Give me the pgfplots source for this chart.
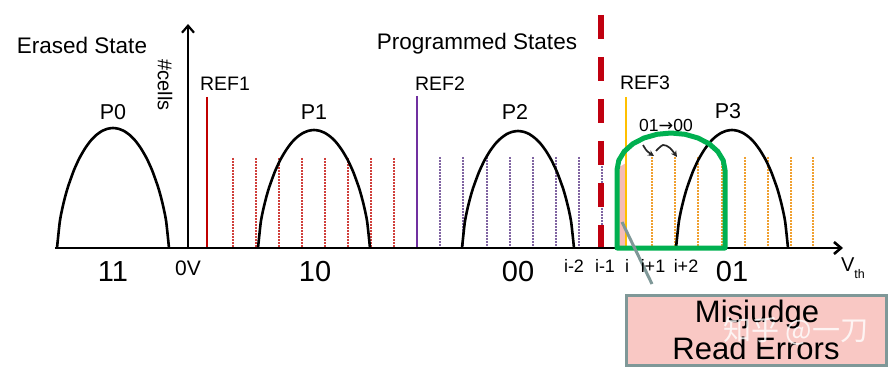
\documentclass[border=0pt]{standalone}
\usepackage{pgfplots}
\pgfplotsset{compat=1.18}
\usepackage{fontspec}
\setmainfont{Liberation Sans}
\newfontfamily\cjk{Noto Sans CJK SC}
\newfontfamily\dejavu{DejaVu Sans}
\usetikzlibrary{arrows.meta}
\definecolor{refred}{HTML}{C00000}
\definecolor{dotred}{HTML}{D0403C}
\definecolor{refpurple}{HTML}{7030A0}
\definecolor{dotpurple}{HTML}{8064A2}
\definecolor{reforange}{HTML}{FFC000}
\definecolor{dotorange}{HTML}{F0A030}
\definecolor{dashred}{HTML}{C00010}
\definecolor{mygreen}{HTML}{00B050}
\definecolor{boxpink}{HTML}{F9C8C4}
\definecolor{areapink}{HTML}{F4BCB6}
\definecolor{slate}{HTML}{7F9898}
\newcommand{\fs}[1]{\fontsize{#1}{#1}\selectfont}
\begin{document}
\begin{tikzpicture}
\begin{axis}[
  width=893pt, height=371pt, scale only axis,
  xmin=0, xmax=893, ymin=0, ymax=371, y dir=reverse,
  hide axis, clip=false, unbounded coords=jump,
]
% pink tail area
\addplot[fill=areapink, draw=none] coordinates {(617,248) (617,168) (621,166) (626,163) (626,248)} -- cycle;
% dotted read levels
\addplot[dotred, line width=1.4pt, dash pattern=on 1.6pt off 1.4pt] coordinates {
(233,158) (233,248) (233,nan) (256,158) (256,248) (256,nan) (279,158) (279,248) (279,nan)
(302,158) (302,248) (302,nan) (325,158) (325,248) (325,nan) (348,158) (348,248) (348,nan)
(371,158) (371,248) (371,nan) (394,158) (394,248)};
\addplot[dotpurple, line width=1.4pt, dash pattern=on 1.6pt off 1.4pt] coordinates {
(440,157) (440,248) (440,nan) (463,157) (463,248) (463,nan) (487,157) (487,248) (487,nan)
(510,157) (510,248) (510,nan) (533,157) (533,248) (533,nan) (556,157) (556,248) (556,nan)
(579,157) (579,248) (579,nan) (602,157) (602,248)};
\addplot[dotorange, line width=1.4pt, dash pattern=on 1.6pt off 1.4pt] coordinates {
(652,157) (652,248) (652,nan) (675,157) (675,248) (675,nan) (698,157) (698,248) (698,nan)
(722,157) (722,248) (722,nan) (745,157) (745,248) (745,nan) (768,157) (768,248) (768,nan)
(791,157) (791,248) (791,nan) (813,157) (813,248)};
% reference lines
\addplot[refred, line width=2.4pt] coordinates {(207,97) (207,248)};
\addplot[refpurple, line width=2.4pt] coordinates {(417,96) (417,248)};
\addplot[reforange, line width=2.4pt] coordinates {(626,97) (626,248)};
% big dashed boundary
\addplot[dashred, line width=6pt, dash pattern=on 24pt off 18pt] coordinates {(601,15) (601,250)};
% distributions
\addplot[black, line width=2.6pt, smooth, tension=0.4] coordinates {
(57,248) (59.8,221.6) (62.6,207.2) (65.4,195.8) (68.2,186.2) (73.8,170.5) (79.4,158.2) (85,148.5)
(90.6,140.8) (96.2,135.1) (101.8,131.1) (107.4,128.8) (113,128) (118.6,128.8) (124.2,131.1)
(129.8,135.1) (135.4,140.8) (141,148.5) (146.6,158.2) (152.2,170.5) (157.8,186.2) (160.6,195.8)
(163.4,207.2) (166.2,221.6) (169,248)};
\addplot[black, line width=2.6pt, smooth, tension=0.4] coordinates {
(258,248) (260.8,222.0) (263.6,207.9) (266.4,196.7) (269.2,187.2) (274.8,171.8) (280.4,159.7) (286,150.2)
(291.6,142.6) (297.2,137.0) (302.8,133.1) (308.4,130.8) (314,130) (319.6,130.8) (325.2,133.1)
(330.8,137.0) (336.4,142.6) (342,150.2) (347.6,159.7) (353.2,171.8) (358.8,187.2) (361.6,196.7)
(364.4,207.9) (367.2,222.0) (370,248)};
\addplot[black, line width=2.6pt, smooth, tension=0.4] coordinates {
(462,248) (464.8,222.3) (467.6,208.2) (470.4,197.1) (473.2,187.7) (478.8,172.5) (484.4,160.5) (490,151.0)
(495.6,143.5) (501.2,138.0) (506.8,134.0) (512.4,131.8) (518,131) (523.6,131.8) (529.2,134.0)
(534.8,138.0) (540.4,143.5) (546,151.0) (551.6,160.5) (557.2,172.5) (562.8,187.7) (565.6,197.1)
(568.4,208.2) (571.2,222.3) (574,248)};
\addplot[black, line width=2.6pt, smooth, tension=0.4] coordinates {
(676,248) (678.8,222.0) (681.6,207.9) (684.4,196.7) (687.2,187.2) (692.8,171.8) (698.4,159.7) (704,150.2)
(709.6,142.6) (715.2,137.0) (720.8,133.1) (726.4,130.8) (732,130) (737.6,130.8) (743.2,133.1)
(748.8,137.0) (754.4,142.6) (760,150.2) (765.6,159.7) (771.2,171.8) (776.8,187.2) (779.6,196.7)
(782.4,207.9) (785.2,222.0) (788,248)};
% axes
\addplot[black, line width=2.6pt, -{Straight Barb[length=7pt,width=12pt]}] coordinates {(55,248) (843,248)};
\addplot[black, line width=2.2pt, -{Straight Barb[length=7pt,width=12pt]}] coordinates {(188,248) (188,24)};
% green region (rectangle with elliptic dome)
\addplot[mygreen, line width=5pt, line join=round] coordinates {
(617,248) (617,170) (618.8,160.4) (624.2,151.5) (632.8,143.8) (644,138.0) (657.0,134.3) (671,133)
(685.0,134.3) (698,138.0) (709.2,143.8) (717.8,151.5) (723.2,160.4) (725,170) (725,248)} -- cycle;
% shift arrows
\addplot[black!85, line width=1.7pt, smooth, -{Stealth[length=6pt,width=6pt]}] coordinates {(643,145) (647,151) (654,156)};
\addplot[black!85, line width=1.7pt, smooth, -{Stealth[length=6pt,width=6pt]}] coordinates {(656,151) (663,145) (670,148) (677,157)};
% pointer line and box
\addplot[slate, line width=3pt] coordinates {(622,222) (652,284)};
\addplot[fill=boxpink, draw=slate, line width=3pt] coordinates {(626,295) (886,295) (886,365) (626,365)} -- cycle;
% texts
\node at (axis cs:82,45) {\fs{22.5}Erased State};
\node at (axis cs:477,44) {\fs{22.5}Programmed States};
\node[rotate=-90] at (axis cs:165,85) {\fs{20}\#cells};
\node at (axis cs:225,84) {\fs{19.5}REF1};
\node at (axis cs:440,84) {\fs{19.5}REF2};
\node at (axis cs:645,83) {\fs{19.5}REF3};
\node at (axis cs:113,112) {\fs{21.5}P0};
\node at (axis cs:314,112) {\fs{21.5}P1};
\node at (axis cs:515,112) {\fs{21.5}P2};
\node at (axis cs:728,111) {\fs{21.5}P3};
\node at (axis cs:666,125) {\fs{17.5}01{\dejavu →}00};
\node at (axis cs:113,272) {\fs{29}11};
\node at (axis cs:188,268) {\fs{21}0V};
\node at (axis cs:315,272) {\fs{29}10};
\node at (axis cs:518,272) {\fs{29}00};
\node at (axis cs:732,272) {\fs{29}01};
\node at (axis cs:574,266) {\fs{18}i-2};
\node at (axis cs:605,266) {\fs{18}i-1};
\node at (axis cs:627,266) {\fs{18}i};
\node at (axis cs:653,266) {\fs{18}i+1};
\node at (axis cs:686,266) {\fs{18}i+2};
\node at (axis cs:853,268) {\fs{20}V\raisebox{-0.35em}{\fs{12.5}th}};
\node at (axis cs:757,314) {\fs{31}Misjudge};
\node at (axis cs:756,348) {\fs{31}Read Errors};
\node[text=white, opacity=0.8] at (axis cs:796,331) {\fs{28}\cjk 知乎 @一刀};
\end{axis}
\pgfresetboundingbox
\path (0,0) rectangle (893pt,371pt);
\end{tikzpicture}
\end{document}
